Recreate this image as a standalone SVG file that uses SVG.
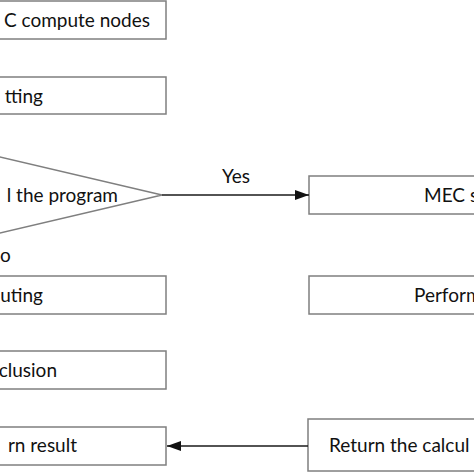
<svg xmlns="http://www.w3.org/2000/svg" width="474" height="474" viewBox="0 0 474 474">
<style>
.box{fill:#fff;stroke:#7f7f7f;stroke-width:1.5}
.t{font-family:Lato,"Open Sans",sans-serif;font-size:19px;fill:#111}
.e{text-anchor:end}
.c{stroke:#1a1a1a;stroke-width:1.5;fill:none}
</style>
<defs>
<marker id="ah2" viewBox="0 0 14 10" refX="14" refY="5" markerWidth="14" markerHeight="10" markerUnits="userSpaceOnUse" orient="auto">
<path d="M0,0 L14,5 L0,10 z" fill="#111"/>
</marker>
</defs>
<rect width="474" height="474" fill="#fff"/>
<g id="n1"><rect class="box" x="-60" y="1" width="226" height="38"/><text class="t e" x="150" y="27">C compute nodes</text></g>
<g id="n2"><rect class="box" x="-60" y="77" width="226" height="37"/><text class="t e" x="43" y="103">tting</text></g>
<g id="n3"><polygon class="box" points="162,195 -40,147.5 -242,195 -40,242.5"/><text class="t e" x="118" y="202">l the program</text></g>
<g id="n4"><rect class="box" x="-60" y="276" width="226" height="38"/><text class="t e" x="43" y="302">uting</text></g>
<g id="n5"><rect class="box" x="-60" y="351" width="226" height="38"/><text class="t e" x="57" y="377">clusion</text></g>
<g id="n6"><rect class="box" x="-60" y="427" width="226" height="38"/><text class="t e" x="77" y="452">rn result</text></g>
<g id="n7"><rect class="box" x="309" y="176" width="230" height="38"/><text class="t" x="424" y="202">MEC s</text></g>
<g id="n8"><rect class="box" x="309" y="276" width="230" height="38"/><text class="t" x="414" y="302">Perform</text></g>
<g id="n9"><rect class="box" x="308" y="419" width="230" height="52"/><text class="t" x="329" y="452">Return the calcul</text></g>
<g id="connectors">
<line class="c" x1="162" y1="195" x2="309" y2="195" marker-end="url(#ah2)"/>
<text class="t" x="222" y="183">Yes</text>
<text class="t" x="0" y="262">o</text>
<line class="c" x1="308" y1="446" x2="167" y2="446" marker-end="url(#ah2)"/>
</g>
</svg>
